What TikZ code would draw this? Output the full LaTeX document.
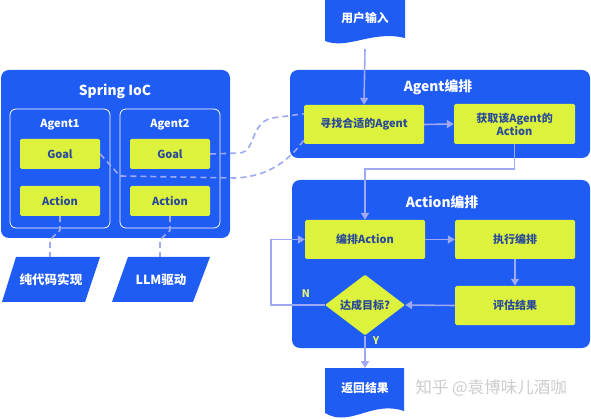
\documentclass[tikz,border=0pt]{standalone}
\usepackage{fontspec}
\setmainfont{Noto Sans CJK SC}
\usetikzlibrary{arrows.meta,shapes.geometric,calc}
\definecolor{bblue}{HTML}{1F5CF4}
\definecolor{lime}{HTML}{DCF23C}
\definecolor{dtext}{HTML}{2A4A9A}
\definecolor{lav}{HTML}{9FA8F2}
\begin{document}
\begin{tikzpicture}[x=1pt,y=-1pt,
  panel/.style={fill=bblue, rounded corners=8pt, inner sep=0pt},
  inbox/.style={draw=white, line width=0.8pt, rounded corners=6pt, inner sep=0pt},
  gbox/.style={fill=lime, rounded corners=1.5pt, inner sep=0pt, text=dtext,
    font=\bfseries\fontsize{11}{13}\selectfont, align=center},
  ttl/.style={text=white, font=\bfseries\fontsize{13.8}{15}\selectfont},
  sttl/.style={text=white, font=\bfseries\fontsize{11}{13}\selectfont},
  wlab/.style={text=white, font=\bfseries\fontsize{11.8}{13}\selectfont},
  plab/.style={text=white, font=\bfseries\fontsize{12.5}{14}\selectfont},
  flow/.style={draw=lav, line width=1.6pt, -{Triangle[width=8pt,length=7pt]}},
  dashline/.style={draw=lav, line width=1.6pt, dash pattern=on 6pt off 4pt},
  yn/.style={text=lime!70!white, font=\bfseries\fontsize{10.5}{12}\selectfont}
]
\useasboundingbox (0,0) rectangle (591,419);

% ---------- Spring IoC ----------
\node[panel, minimum width=229pt, minimum height=168pt] (ioc) at (115.5,154) {};
\node[ttl] (iocT) at (115,91) {Spring IoC};
\node[inbox, minimum width=100pt, minimum height=119pt] (a1) at (60,168.5) {};
\node[inbox, minimum width=100pt, minimum height=119pt] (a2) at (170,168.5) {};
\node[sttl] (a1T) at (60,125) {Agent1};
\node[sttl] (a2T) at (170,125) {Agent2};
\node[gbox, minimum width=80pt, minimum height=30pt] (g1) at (60,154) {Goal};
\node[gbox, minimum width=80pt, minimum height=30pt] (g2) at (170,154) {Goal};
\node[gbox, minimum width=80pt, minimum height=30pt] (ac1) at (60,201) {Action};
\node[gbox, minimum width=80pt, minimum height=30pt] (ac2) at (170,201) {Action};

% parallelograms
\fill[bblue] (16,257) -- (100,257) -- (85,302) -- (2,302) -- cycle;
\fill[bblue] (128,257) -- (210,257) -- (193,302) -- (112,302) -- cycle;
\node[plab] (p1) at (51,280) {纯代码实现};
\node[plab] (p2) at (161,280) {LLM驱动};
\coordinate (p1t) at (50,257);
\coordinate (p2t) at (160,257);

\draw[dashline] (ac1.south) -- ++(0,14) -- (50,240) -- (p1t);
\draw[dashline] (ac2.south) -- ++(0,14) -- (160,240) -- (p2t);

% ---------- user input ----------
\fill[bblue] (325,0) -- (405,0) -- (405,38) .. controls (372,30) and (348,50) .. (325,41) -- cycle;
\node[wlab] (user) at (365,18) {用户输入};
\coordinate (uin) at (365,49);

% ---------- Agent orchestration ----------
\node[panel, minimum width=300pt, minimum height=88pt] (agp) at (440,114) {};
\node[ttl] (agpT) at (438,87) {Agent编排};
\node[gbox, minimum width=120pt, minimum height=39pt] (find) at (364,124.5) {寻找合适的Agent};
\node[gbox, minimum width=121pt, minimum height=40pt] (get) at (514.5,124) {获取该Agent的\\Action};

% ---------- Action orchestration ----------
\node[panel, minimum width=298pt, minimum height=168pt] (acp) at (441,264) {};
\node[ttl] (acpT) at (442,202) {Action编排};
\node[gbox, minimum width=120pt, minimum height=39pt] (orch) at (365,239.5) {编排Action};
\node[gbox, minimum width=120pt, minimum height=39pt] (exec) at (515,239.5) {执行编排};
\node[gbox, minimum width=120pt, minimum height=39pt] (eval) at (515,305.5) {评估结果};
\node[gbox, diamond, minimum width=80pt, minimum height=58pt, rounded corners=1pt] (dia) at (365,305) {达成目标?};

% ---------- return ----------
\fill[bblue] (325,368) -- (404,368) -- (404,411) .. controls (372,400) and (350,428) .. (325,413) -- cycle;
\node[wlab] (ret) at (365,388) {返回结果};
\coordinate (rettop) at (365,368);

% watermark
\node[text=gray!40, font=\fontsize{16.5}{18}\selectfont, anchor=west] (wm) at (412,388) {知乎 @袁博味儿酒咖};

% ---------- flow arrows ----------
\coordinate (bend) at (0,169);
\draw[flow] (uin) -- (find.north);
\draw[flow] (find.east) -- (get.west);
\draw[flow] (get.south) -- (get.south |- bend) -| (orch.north);
\draw[flow] (orch.east) -- (exec.west);
\draw[flow] (exec.south) -- (eval.north);
\draw[flow] (eval.west) -- (dia.east);
\draw[flow] (dia.west) -- ++(-54,0) |- (orch.west);
\draw[flow] (dia.south) -- (rettop);
\node[yn] (nlab) at (306,294) {N};
\node[yn] (ylab) at (376,341) {Y};

% ---------- dashed links ----------
\draw[dashline] (g2.east) -- (240,153) .. controls (256,151) and (250,123) .. (272,118) -- ([yshift=-9pt]find.north west);
\draw[dashline] (g1.east) -- (120,176) -- (235,178) .. controls (262,177) and (285,166) .. ([yshift=4pt]find.south west);
\end{tikzpicture}
\end{document}
